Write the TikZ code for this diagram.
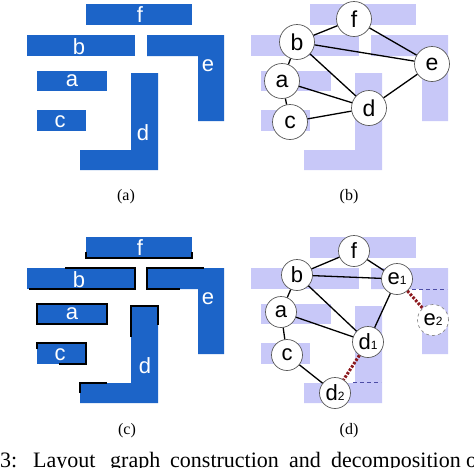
\documentclass[tikz,border=0pt]{standalone}
\usepackage{fontspec}
\setmainfont{Liberation Serif}
\newfontfamily\labfont{Liberation Sans}
\definecolor{blu}{RGB}{28,100,200}
\definecolor{lav}{RGB}{200,200,248}
\definecolor{dred}{RGB}{140,25,30}
\newcommand\layshapes[1]{%
  \fill[#1] (86,4) rectangle (192,25);
  \fill[#1] (27,35) rectangle (135,56);
  \fill[#1] (147,35) -- (224,35) -- (224,121) -- (198,121) -- (198,56) -- (147,56) -- cycle;
  \fill[#1] (37,71) rectangle (107,91);
  \fill[#1] (37,110) rectangle (86,131);
  \fill[#1] (131,73) -- (158,73) -- (158,170) -- (80,170) -- (80,150) -- (131,150) -- cycle;
}
\newcommand\sbs[1]{{\fontsize{12}{12}\selectfont #1}}
\begin{document}
\begin{tikzpicture}[x=1pt,y=-1pt,
  wlab/.style={text=white,font=\labfont\fontsize{22}{22}\selectfont,inner sep=0pt},
  gn/.style={circle,draw=black!65,fill=white,minimum size=35pt,inner sep=0pt,
    font=\labfont\fontsize{23}{23}\selectfont,line width=0.7pt},
  gnd/.style={gn,minimum size=31pt,font=\labfont\fontsize{22}{22}\selectfont},
  lnk/.style={line width=1.3pt},
  cutline/.style={draw=dred,line width=3pt,dash pattern=on 2.5pt off 1.5pt},
  splitline/.style={draw=black!50!blue!70,line width=0.6pt,dash pattern=on 4pt off 3pt},
  bmark/.style={line width=2.5pt},
  captxt/.style={font=\fontsize{16}{16}\selectfont,inner sep=0pt},
  bottxt/.style={font=\fontsize{22}{22}\selectfont,inner sep=0pt,anchor=base west},
]
\clip (0,0) rectangle (474,467);
\fill[white] (0,0) rectangle (474,467);

% ---------- (a)
\layshapes{blu}
\node[wlab] (af) at (140,15) {f};
\node[wlab] (ab) at (79,47) {b};
\node[wlab] (ae) at (208,66) {e};
\node[wlab] (aa) at (72,81) {a};
\node[wlab] (ac) at (60,122) {c};
\node[wlab] (ad) at (143,133) {d};
\node[captxt] (capa) at (126,197) {(a)};

% ---------- (b)
\begin{scope}[shift={(224,0)}]
\layshapes{lav}
\end{scope}
\node[gn] (bf) at (354,19) {f};
\node[gn] (bb) at (297,42) {b};
\node[gn] (ba) at (282,81) {a};
\node[gn] (bc) at (290,122) {c};
\node[gn] (bd) at (369,108) {d};
\node[gn] (be) at (432,64) {e};
\draw[lnk] (bf) -- (bb);
\draw[lnk] (bf) -- (be);
\draw[lnk] (bb) -- (be);
\draw[lnk] (bb) -- (ba);
\draw[lnk] (bb) -- (bd);
\draw[lnk] (ba) -- (bc);
\draw[lnk] (ba) -- (bd);
\draw[lnk] (bc) -- (bd);
\draw[lnk] (bd) -- (be);
\node[captxt] (capb) at (349,197) {(b)};

% ---------- (c)
\begin{scope}[shift={(0,233)}]
\layshapes{blu}
\draw[bmark] (86,18.5) -- (86,25) -- (192,25) -- (192,18.5);
\draw[bmark] (65,35) -| (135,56) -- (29,56);
\draw[bmark] (204,35) -| (147,56) -- (180,56);
\draw[bmark] (37,71) rectangle (107,91);
\draw[bmark] (37,116) |- (86,110) -- (86,131) -- (59,131);
\draw[bmark] (131,104) |- (158,73) -- (158,92);
\draw[bmark] (80,160) |- (107,150);
\end{scope}
\node[wlab] (cf) at (140,248) {f};
\node[wlab] (cb) at (79,280) {b};
\node[wlab] (ce) at (208,299) {e};
\node[wlab] (ca) at (72,314) {a};
\node[wlab] (cc) at (60,355) {c};
\node[wlab] (cd) at (145,366) {d};
\node[captxt] (capc) at (127,431) {(c)};

% ---------- (d)
\begin{scope}[shift={(224,233)}]
\layshapes{lav}
\end{scope}
\coordinate (es1) at (412,289);
\coordinate (es2) at (447,289);
\coordinate (ds1) at (353,382);
\coordinate (ds2) at (381,382);
\draw[splitline] (es1) -- (es2);
\draw[splitline] (ds1) -- (ds2);
\node[gnd] (df) at (354,251) {f};
\node[gnd] (db) at (297,275) {b};
\node[gnd] (de1) at (397,279) {e\sbs{1}};
\node[gnd] (da) at (281,312) {a};
\node[gnd] (dc) at (287,355) {c};
\node[gnd] (dd1) at (368,342) {d\sbs{1}};
\node[gnd] (dd2) at (335,393) {d\sbs{2}};
\node[gnd,dashed,draw=black!45] (de2) at (433,320) {e\sbs{2}};
\draw[lnk] (df) -- (db);
\draw[lnk] (df) -- (de1);
\draw[lnk] (db) -- (de1);
\draw[lnk] (db) -- (da);
\draw[lnk] (db) -- (dd1);
\draw[lnk] (da) -- (dc);
\draw[lnk] (da) -- (dd1);
\draw[lnk] (dc) -- (dd2);
\draw[lnk] (dd1) -- (de1);
\draw[cutline] (dd1) -- (dd2);
\draw[cutline] (de1) -- (de2);
\node[captxt] (capd) at (349,431) {(d)};

% ---------- bottom caption (cut off, as in the reference)
\node[bottxt] (t0) at (0,467) {3:};
\node[bottxt] (t1) at (33,467) {Layout};
\node[bottxt] (t2) at (110,467) {graph};
\node[bottxt] (t3) at (170,467) {construction};
\node[bottxt] (t4) at (289,467) {and};
\node[bottxt] (t5) at (331,467) {decomposition};
\node[bottxt] (t6) at (466,467) {o};
\end{tikzpicture}
\end{document}
